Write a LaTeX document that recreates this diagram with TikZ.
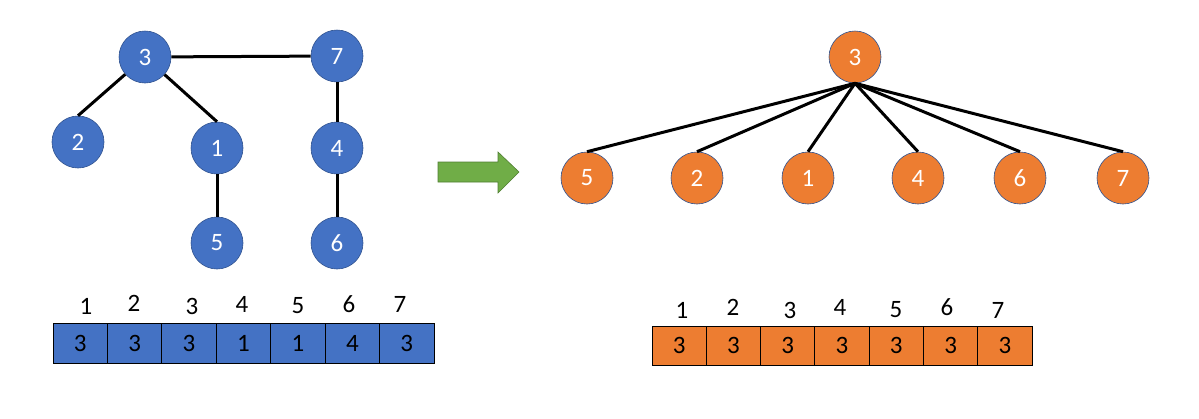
\documentclass[tikz,border=0pt]{standalone}
\usepackage{fontspec}
\setmainfont{Carlito}
\definecolor{nodeblue}{HTML}{4472C4}
\definecolor{nodeorange}{HTML}{ED7D31}
\definecolor{rimblue}{HTML}{2F528F}
\definecolor{arrowgreen}{HTML}{70AD47}
\definecolor{rimgreen}{HTML}{507E32}
\begin{document}
\begin{tikzpicture}[x=1pt,y=-1pt,
				vertex/.style={circle,draw=rimblue,line width=0.6pt,minimum size=52pt,inner sep=0pt,
					text=white,font=\fontsize{25}{30}\selectfont},
				blue vertex/.style={vertex,fill=nodeblue},
				orange vertex/.style={vertex,fill=nodeorange},
				edge/.style={line width=3pt},
				cell/.style={draw,line width=1pt,minimum height=40pt,inner sep=0pt,
					font=\fontsize{25}{30}\selectfont},
				index/.style={inner sep=0pt,font=\fontsize{25}{30}\selectfont}]
\useasboundingbox (0,0) rectangle (1199,418);
% graph before
\node[blue vertex] (b3) at (145,57) {3};
\node[blue vertex] (b7) at (337,56) {7};
\node[blue vertex] (b2) at (78,142) {2};
\node[blue vertex] (b1) at (217,148) {1};
\node[blue vertex] (b4) at (337,148) {4};
\node[blue vertex] (b5) at (217,243) {5};
\node[blue vertex] (b6) at (337,243) {6};
\draw[edge] (b3) -- (b7);
\draw[edge] (b3) -- (b2.north);
\draw[edge] (b3) -- (b1.north);
\draw[edge] (b7) -- (b4);
\draw[edge] (b1) -- (b5);
\draw[edge] (b4) -- (b6);
% parent array before
\foreach \v [count=\i] in {3,3,3,1,1,4,3}
	\node[cell,fill=nodeblue,minimum width=54.43pt] (pa\i) at ({53+54.43*(\i-0.5)},343) {\v};
\foreach \i/\x/\y in {1/86/306,2/134/303,3/192/306,4/242/304,5/298/306,6/349/304,7/400/304}
	\node[index] (ia\i) at (\x,\y) {\i};
% arrow
\fill[arrowgreen,draw=rimgreen,line width=0.6pt] (438,162) -- (498,162) -- (498,152) -- (519,172)
	-- (498,193) -- (498,182) -- (438,182) -- cycle;
% graph after
\node[orange vertex] (o3) at (855,57) {3};
\foreach \n/\x in {5/587,2/697,1/808,4/918,6/1020,7/1123}
{
	\node[orange vertex] (o\n) at (\x,178) {\n};
	\draw[edge] (o3.south) -- (o\n.north);
}
% parent array after
\foreach \v [count=\i] in {3,3,3,3,3,3,3}
	\node[cell,fill=nodeorange,minimum width=54.29pt,minimum height=39pt] (pb\i) at ({652+54.29*(\i-0.5)},345.5) {\v};
\foreach \i/\x/\y in {1/682/310,2/733/307,3/790/310,4/840/307,5/896/310,6/947/307,7/998/310}
	\node[index] (ib\i) at (\x,\y) {\i};
\end{tikzpicture}
\end{document}
